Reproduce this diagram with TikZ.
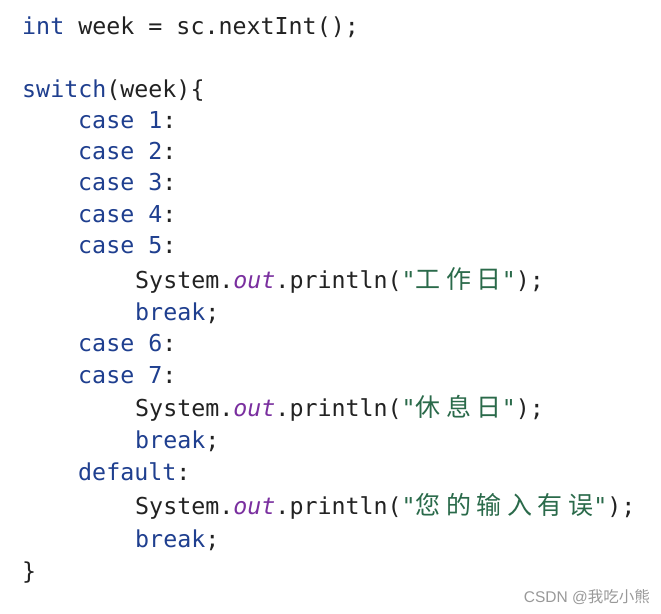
\documentclass[tikz,border=0pt]{standalone}
\usepackage{fontspec}
\setmonofont{DejaVu Sans Mono}
\setsansfont{Liberation Sans}
\newfontfamily\cjk{Noto Sans CJK SC}
\newfontfamily\cjksp[LetterSpace=22]{Noto Sans CJK SC}
\definecolor{kw}{HTML}{1F3F8F}
\definecolor{fld}{HTML}{7A2F9F}
\definecolor{str}{HTML}{2A6A4A}
\definecolor{txt}{HTML}{222222}
\tikzset{cl/.style={anchor=base west,inner sep=0pt,font=\ttfamily\fontsize{23.3}{24}\selectfont,text=txt}}
\newcommand{\K}[1]{\textcolor{kw}{#1}}
\newcommand{\F}[1]{\textcolor{fld}{\itshape #1}}
\newcommand{\Sq}[1]{\textcolor{str}{"{\cjksp\fontsize{25}{26}\selectfont #1}"}}
\begin{document}
\begin{tikzpicture}[x=1pt,y=-1pt]
\useasboundingbox (0,0) rectangle (661,613);
\fill[white] (0,0) rectangle (661,613);
\node[cl] (l1) at (22,34) {\K{int} week = sc.nextInt();};
\node[cl] (l2) at (22,97) {\K{switch}(week)\{};
\node[cl] (l3) at (78,128) {\K{case 1}:};
\node[cl] (l4) at (78,159) {\K{case 2}:};
\node[cl] (l5) at (78,190) {\K{case 3}:};
\node[cl] (l6) at (78,222) {\K{case 4}:};
\node[cl] (l7) at (78,253) {\K{case 5}:};
\node[cl] (l8) at (135,288) {System.\F{out}.println(\Sq{工作日});};
\node[cl] (l9) at (135,320) {\K{break};};
\node[cl] (l10) at (78,351) {\K{case 6}:};
\node[cl] (l11) at (78,383) {\K{case 7}:};
\node[cl] (l12) at (135,416) {System.\F{out}.println(\Sq{休息日});};
\node[cl] (l13) at (135,448) {\K{break};};
\node[cl] (l14) at (78,480) {\K{default}:};
\node[cl] (l15) at (135,514) {System.\F{out}.println(\Sq{您的输入有误});};
\node[cl] (l16) at (135,547) {\K{break};};
\node[cl] (l17) at (22,579) {\}};
\node[anchor=base east,inner sep=0pt,text=gray!80,font=\sffamily\fontsize{15.5}{16}\selectfont] (wm) at (650,602) {CSDN @{\cjk 我吃小熊}};
\end{tikzpicture}
\end{document}
